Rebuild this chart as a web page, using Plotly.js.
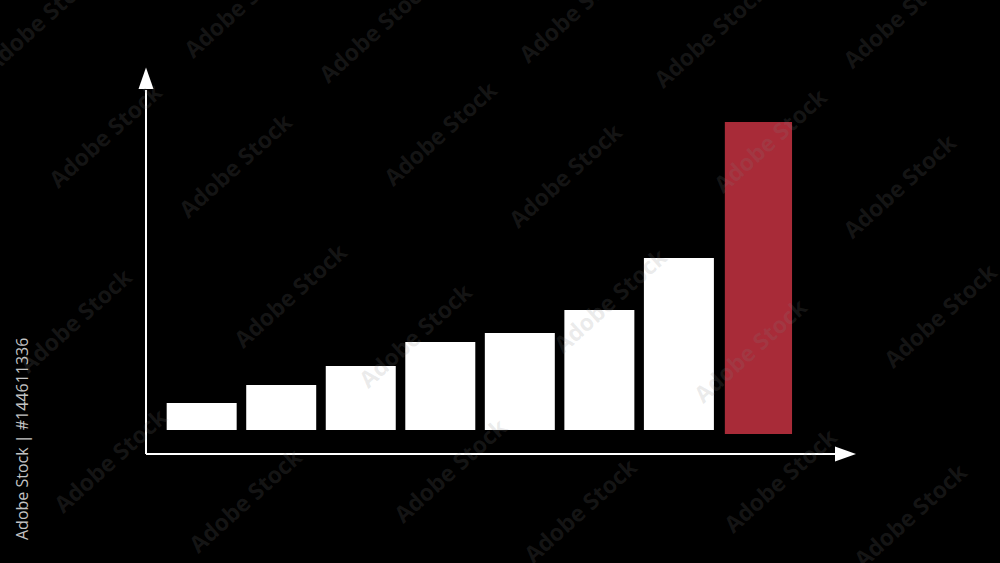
<!DOCTYPE html>
<html>
<head>
<meta charset="utf-8">
<script src="https://cdn.plot.ly/plotly-3.0.1.min.js"></script>
<style>html,body{margin:0;padding:0;background:#000;}#chart{width:1000px;height:563px;}</style>
</head>
<body>
<div id="chart"></div>
<script>
// Data
var categories = [1, 2, 3, 4, 5, 6, 7, 8];
var values = [27, 45, 64, 88, 97, 120, 172, 312];
var bases = [0, 0, 0, 0, 0, 0, 0, -4];
var barColors = ['#ffffff','#ffffff','#ffffff','#ffffff','#ffffff','#ffffff','#ffffff','#a82b38'];
var barWidths = [0.88, 0.88, 0.88, 0.88, 0.88, 0.88, 0.88, 0.845];

// Plot area in pixels (for decoration placement)
var L = 146, R = 855, T = 68, B = 454, W = 1000, H = 563;
function px(x){ return (x - L) / (R - L); }
function py(y){ return (B - y) / (B - T); }

var wm = [[40,20],[375,30],[710,35],[240,5],[575,10],[900,15],
          [105,135],[440,133],[770,140],
          [235,165],[565,175],[900,185],
          [75,320],[415,335],[750,350],
          [290,295],[610,300],[940,315],
          [110,460],[450,470],[780,480],
          [245,500],[580,510],[910,515]];

var annotations = wm.map(function(p){
  return {xref:'paper', yref:'paper', x:px(p[0]), y:py(p[1]), text:'<b>Adobe Stock</b>',
    showarrow:false, textangle:-42, xanchor:'center', yanchor:'middle',
    font:{family:'Open Sans', size:23, color:'rgba(128,128,128,0.16)'}};
});
annotations.push({xref:'paper', yref:'paper', x:px(22), y:py(439), text:'Adobe Stock | #144611336',
  showarrow:false, textangle:-90, xanchor:'center', yanchor:'middle',
  font:{family:'Open Sans', size:16, color:'#c4c4c4'}});

var shapes = [
  {type:'line', xref:'paper', yref:'paper', x0:0, y0:0, x1:0, y1:py(90), line:{color:'#ffffff', width:2}},
  {type:'line', xref:'paper', yref:'paper', x0:0, y0:0, x1:px(837), y1:0, line:{color:'#ffffff', width:2}},
  {type:'path', xref:'paper', yref:'paper',
   path:'M '+px(146)+' '+py(67.5)+' L '+px(138.5)+' '+py(89)+' L '+px(153.5)+' '+py(89)+' Z',
   fillcolor:'#ffffff', line:{width:0}},
  {type:'path', xref:'paper', yref:'paper',
   path:'M '+px(856)+' '+py(454)+' L '+px(835)+' '+py(446.5)+' L '+px(835)+' '+py(461.5)+' Z',
   fillcolor:'#ffffff', line:{width:0}}
];

var trace = {
  type:'bar', x:categories, y:values, base:bases, width:barWidths,
  marker:{color:barColors, line:{width:0}}, hoverinfo:'none'
};

var layout = {
  width:W, height:H,
  paper_bgcolor:'#000000', plot_bgcolor:'#000000',
  margin:{l:L, r:W-R, t:T, b:H-B, pad:0},
  showlegend:false,
  xaxis:{range:[0.3, 9.214], showgrid:false, zeroline:false, showticklabels:false, ticks:'', showline:false, fixedrange:true},
  yaxis:{range:[-24, 362], showgrid:false, zeroline:false, showticklabels:false, ticks:'', showline:false, fixedrange:true},
  shapes:shapes,
  annotations:annotations
};

Plotly.newPlot('chart', [trace], layout, {displayModeBar:false, staticPlot:true});
</script>
</body>
</html>
